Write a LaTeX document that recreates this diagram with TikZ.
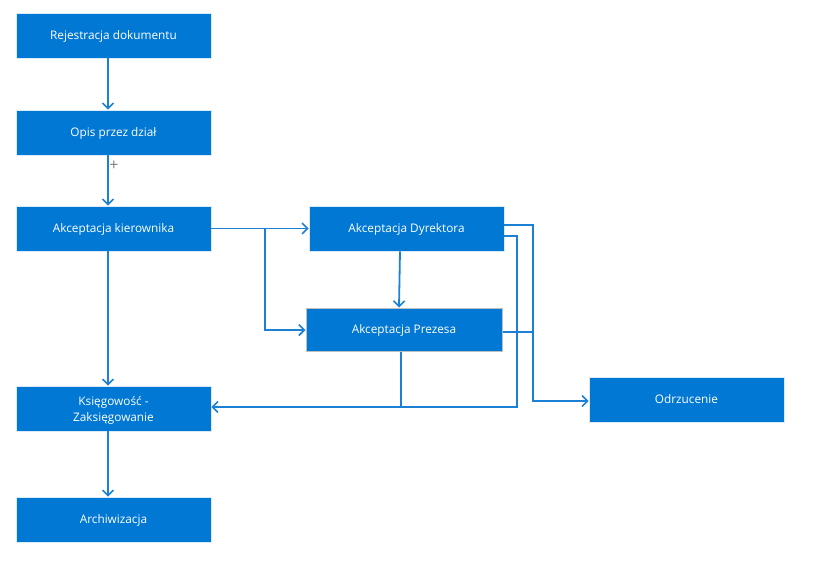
\documentclass[tikz,border=0pt]{standalone}
\usepackage{fontspec}
\setmainfont{Open Sans}
\usetikzlibrary{arrows.meta}
\definecolor{boxblue}{RGB}{0,120,212}
\definecolor{lineblue}{RGB}{28,128,212}
\begin{document}
\begin{tikzpicture}[x=1pt,y=-1pt,
  box/.style={fill=boxblue, draw=white!85!boxblue, line width=0.6pt, text=white, minimum width=195pt, minimum height=45pt, inner sep=0pt, text depth=0pt, font=\fontsize{11.8}{16}\selectfont, align=center},
  conn/.style={draw=lineblue, line width=1.8pt},
  arr/.style={conn, -{Straight Barb[length=5.5pt,width=11pt,line width=1.6pt]}}]
\useasboundingbox (0,0) rectangle (814,560);
\node[box] (rej) at (113.5,35.5) {Rejestracja dokumentu};
\node[box] (opis) at (113.5,132.5) {Opis przez dział};
\node[box] (kier) at (113.5,228.5) {Akceptacja kierownika};
\node[box] (ksieg) at (113.5,408.5) {Księgowość -\\Zaksięgowanie};
\node[box] (arch) at (113.5,519.5) {Archiwizacja};
\node[box] (dyr) at (406.5,228.5) {Akceptacja Dyrektora};
\node[box, draw=gray!50, line width=1pt, minimum width=196pt, minimum height=43pt] (prez) at (404,329.5) {Akceptacja Prezesa};
\node[box] (odrz) at (686.5,399.5) {Odrzucenie};
\node[text=gray, font=\fontsize{16}{16}\selectfont, inner sep=0pt] (plus) at (114,166) {+};

\coordinate (b1) at (265,228);
\coordinate (b2) at (265,330);
\coordinate (r1) at (533,225);
\coordinate (r2) at (533,401);
\coordinate (s1) at (517,236);
\coordinate (s2) at (517,407);
\coordinate (p1) at (533,332);
\coordinate (p2) at (401,407);

\draw[arr] (rej.south -| 108,0) -- (opis.north -| 108,0);
\draw[arr] (opis.south -| 108,0) -- (kier.north -| 108,0);
\draw[arr] (kier.south -| 108,0) -- (ksieg.north -| 108,0);
\draw[arr] (ksieg.south -| 108,0) -- (arch.north -| 108,0);
\draw[arr] (kier.east) -- (dyr.west);
\draw[arr] (b1) -- (b2) -- (prez.west |- b2);
\draw[arr] (dyr.south -| 400,0) -- (prez.north -| 399,0);
\draw[arr] (dyr.east |- r1) -- (r1) -- (r2) -- (odrz.west |- r2);
\draw[arr] (dyr.east |- s1) -- (s1) -- (s2) -- (ksieg.east |- s2);
\draw[conn] (prez.east |- p1) -- (p1);
\draw[conn] (prez.south -| p2) -- (p2);
\end{tikzpicture}
\end{document}
